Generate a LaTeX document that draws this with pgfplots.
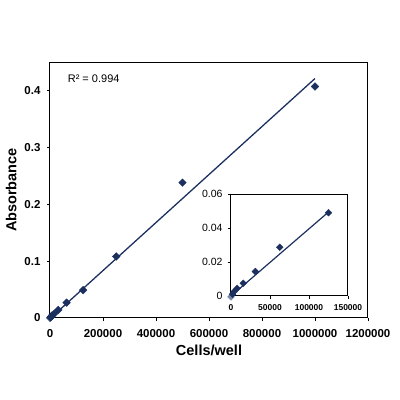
\documentclass[border=0pt]{standalone}
\usepackage{pgfplots}
\pgfplotsset{compat=1.18}
\usepackage{fontspec}
\setmainfont{Liberation Sans}
\definecolor{navy}{RGB}{28,48,96}
\definecolor{lightnavy}{RGB}{120,135,165}
\begin{document}
\begin{tikzpicture}[x=1pt,y=1pt]
\useasboundingbox (0,0) rectangle (400,400);
\begin{axis}[
  at={(50pt,82pt)}, anchor=south west,
  scale only axis, width=318pt, height=256pt,
  xmin=0, xmax=1200000, ymin=0, ymax=0.45,
  xtick={0,200000,400000,600000,800000,1000000,1200000},
  ytick={0,0.1,0.2,0.3,0.4},
  scaled ticks=false,
  xticklabel style={/pgf/number format/fixed, /pgf/number format/1000 sep={}, yshift=-5pt},
  yticklabel style={/pgf/number format/fixed, /pgf/number format/precision=1, xshift=-3pt},
  /pgf/number format/assume math mode=true,
  tick align=outside, major tick length=3pt,
  xtick pos=bottom, ytick pos=left,
  tick style={black, line width=0.8pt},
  axis line style={black, line width=1pt},
  ticklabel style={font=\bfseries\fontsize{11.5}{13}\selectfont},
  xlabel={Cells/well}, ylabel={Absorbance},
  label style={font=\bfseries\fontsize{14.5}{16}\selectfont},
  xlabel style={yshift=0pt},
  ylabel style={yshift=1pt},
  clip=false,
]
\addplot[navy, line width=1.3pt] coordinates {(0,-0.001) (1000000,0.421)};
\addplot[only marks, mark=square*, mark options={rotate=45}, mark size=2.7pt, color=lightnavy] coordinates {(0,0)};
\addplot[only marks, mark=square*, mark options={rotate=45}, mark size=2.7pt, color=navy] coordinates {
(1953,0.001) (3906,0.0025) (7812,0.0045) (15625,0.0075) (31250,0.014)
(62500,0.027) (125000,0.049) (250000,0.108) (500000,0.238) (1000000,0.407)};
\node[anchor=west, font=\fontsize{11}{13}\selectfont] at (rel axis cs:0.045,0.934) {R² = 0.994};
\end{axis}
\begin{axis}[
  at={(231pt,104pt)}, anchor=south west,
  scale only axis, width=117pt, height=102pt,
  xmin=0, xmax=150000, ymin=0, ymax=0.06,
  xtick={0,50000,100000,150000},
  ytick={0,0.02,0.04,0.06},
  scaled ticks=false,
  xticklabel style={/pgf/number format/fixed, /pgf/number format/1000 sep={}, yshift=-2pt},
  yticklabel style={/pgf/number format/fixed, /pgf/number format/precision=2, xshift=-2pt},
  /pgf/number format/assume math mode=true,
  tick align=outside, major tick length=3pt,
  xtick pos=bottom, ytick pos=left,
  tick style={black, line width=0.8pt},
  axis line style={black, line width=1pt},
  axis background/.style={fill=white},
  xticklabel style={font=\bfseries\fontsize{8.5}{10}\selectfont},
  yticklabel style={font=\fontsize{10.5}{12}\selectfont},
  clip=false,
]
\addplot[navy, line width=1.2pt] coordinates {(0,0) (125000,0.0494)};
\addplot[only marks, mark=square*, mark options={rotate=45}, mark size=2.4pt, color=lightnavy] coordinates {(0,-0.0005)};
\addplot[only marks, mark=square*, mark options={rotate=45}, mark size=2.4pt, color=navy] coordinates {
(1953,0.001) (3906,0.0025) (7812,0.0045) (15625,0.0075) (31250,0.0144)
(62500,0.0287) (125000,0.049)};
\end{axis}
\end{tikzpicture}
\end{document}
